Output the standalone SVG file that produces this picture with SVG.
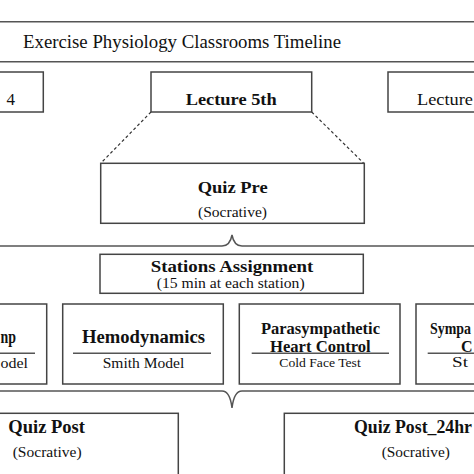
<svg xmlns="http://www.w3.org/2000/svg" width="474" height="474" viewBox="0 0 474 474">
<style>
.box{fill:#fff;stroke:#444;stroke-width:1.5}
.ln{fill:none;stroke:#555;stroke-width:1.5}
.dash{fill:none;stroke:#333;stroke-width:1.2;stroke-dasharray:3,2.5}
text{font-family:"Liberation Serif","Times New Roman",serif;fill:#111}
.b{font-weight:bold}
.m{text-anchor:middle}
</style>
<rect width="474" height="474" fill="#fff"/>
<g id="header">
<line class="ln" x1="0" y1="21.7" x2="474" y2="21.7"/>
<line class="ln" x1="0" y1="61.7" x2="474" y2="61.7"/>
<text x="23" y="48" font-size="18" textLength="318" lengthAdjust="spacingAndGlyphs">Exercise Physiology Classrooms Timeline</text>
</g>
<g id="lecture4">
<rect class="box" x="-5" y="72" width="48.3" height="40"/>
<text x="6.5" y="105" font-size="17">4</text>
</g>
<g id="lecture5">
<rect class="box" x="151" y="72" width="160.7" height="40"/>
<text class="b" x="185.7" y="105" font-size="16.5" textLength="91" lengthAdjust="spacingAndGlyphs">Lecture 5th</text>
</g>
<g id="lecture6">
<rect class="box" x="388" y="72" width="100" height="40"/>
<text x="417" y="105" font-size="16.5" textLength="56" lengthAdjust="spacingAndGlyphs">Lecture</text>
</g>
<g id="connectors">
<line class="dash" x1="151" y1="112" x2="101" y2="163"/>
<line class="dash" x1="311.7" y1="112" x2="363.5" y2="163"/>
<path class="ln" d="M0,246 H222 Q230,246 232,235 Q234,246 242,246 H474"/>
<path class="ln" d="M0,391 H222 Q230,391 232,408 Q234,391 242,391 H474"/>
</g>
<g id="quizpre">
<rect class="box" x="100.7" y="163.3" width="263.6" height="60"/>
<text class="b" x="197.7" y="192.5" font-size="17.5" textLength="70" lengthAdjust="spacingAndGlyphs">Quiz Pre</text>
<text x="198" y="217" font-size="14.5" textLength="69" lengthAdjust="spacingAndGlyphs">(Socrative)</text>
</g>
<g id="stations">
<rect class="box" x="100" y="254.3" width="263.3" height="39"/>
<text class="b" x="150.7" y="272" font-size="16.5" textLength="162.6" lengthAdjust="spacingAndGlyphs">Stations Assignment</text>
<text x="156.7" y="288" font-size="14" textLength="148" lengthAdjust="spacingAndGlyphs">(15 min at each station)</text>
</g>
<g id="station1">
<rect class="box" x="-5" y="304" width="51.7" height="80"/>
<line class="ln" x1="0" y1="353.3" x2="35" y2="353.3"/>
<text class="b" x="0.5" y="343.3" font-size="18" textLength="15.5" lengthAdjust="spacingAndGlyphs">np</text>
<text x="0.5" y="368.3" font-size="15" textLength="27.5" lengthAdjust="spacingAndGlyphs">odel</text>
</g>
<g id="station2">
<rect class="box" x="62.7" y="304" width="160.6" height="80"/>
<line class="ln" x1="73" y1="353.3" x2="211" y2="353.3"/>
<text class="b" x="82" y="343.3" font-size="18" textLength="123" lengthAdjust="spacingAndGlyphs">Hemodynamics</text>
<text x="102.7" y="368.3" font-size="15" textLength="81.6" lengthAdjust="spacingAndGlyphs">Smith Model</text>
</g>
<g id="station3">
<rect class="box" x="239.3" y="304" width="160.7" height="80"/>
<line class="ln" x1="251.7" y1="353.3" x2="389" y2="353.3"/>
<text class="b" x="261" y="334.3" font-size="16" textLength="119" lengthAdjust="spacingAndGlyphs">Parasympathetic</text>
<text class="b" x="270" y="351.5" font-size="16" textLength="100.7" lengthAdjust="spacingAndGlyphs">Heart Control</text>
<text x="279.3" y="367.3" font-size="13.5" textLength="81.4" lengthAdjust="spacingAndGlyphs">Cold Face Test</text>
</g>
<g id="station4">
<rect class="box" x="416" y="304" width="80" height="80"/>
<line class="ln" x1="427.7" y1="353.3" x2="474" y2="353.3"/>
<text class="b" x="430" y="334.3" font-size="16" textLength="41" lengthAdjust="spacingAndGlyphs">Sympa</text>
<text class="b" x="461" y="351.5" font-size="16">C</text>
<text x="452" y="367.3" font-size="15" textLength="16" lengthAdjust="spacingAndGlyphs">St</text>
</g>
<g id="quizpost">
<rect class="box" x="-5" y="413.3" width="183.3" height="80"/>
<text class="b" x="8.3" y="433.3" font-size="18" textLength="76.7" lengthAdjust="spacingAndGlyphs">Quiz Post</text>
<text x="12.7" y="457.3" font-size="15" textLength="69" lengthAdjust="spacingAndGlyphs">(Socrative)</text>
</g>
<g id="quizpost24">
<rect class="box" x="284.3" y="413.3" width="200" height="80"/>
<text class="b" x="354" y="433.3" font-size="18" textLength="118" lengthAdjust="spacingAndGlyphs">Quiz Post_24hr</text>
<text x="381.7" y="457.3" font-size="15" textLength="68.3" lengthAdjust="spacingAndGlyphs">(Socrative)</text>
</g>
</svg>
